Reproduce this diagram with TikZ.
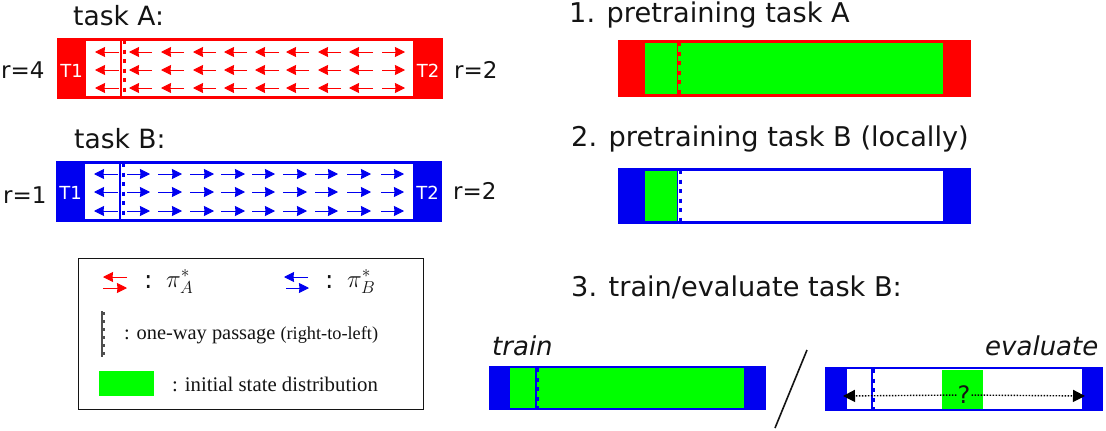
\documentclass[tikz,border=0pt]{standalone}
\usepackage{fontspec}
\setmainfont{DejaVu Sans}
\newfontfamily\legfont{Liberation Serif}
\usetikzlibrary{arrows.meta}
\definecolor{pr}{RGB}{255,0,0}
\definecolor{pb}{RGB}{0,0,240}
\definecolor{pg}{RGB}{0,255,0}
\definecolor{ink}{RGB}{20,20,20}
\tikzset{
  x=1pt,y=-1pt,
  heading/.style={anchor=base west,inner sep=0,font=\fontsize{27.2}{32}\selectfont,text=ink},
  taskhead/.style={anchor=base west,inner sep=0,font=\fontsize{26.5}{32}\selectfont,text=ink},
  rlabel/.style={anchor=base west,inner sep=0,font=\fontsize{23}{27}\selectfont,text=ink},
  terminal/.style={inner sep=0,text=white,font=\fontsize{18}{22}\selectfont},
  mode/.style={anchor=base west,inner sep=0,font=\fontsize{26}{31}\selectfont\itshape,text=ink},
  legendtext/.style={anchor=base west,inner sep=0,text=ink},
  legendmath/.style={anchor=base west,inner sep=0,text=ink,font=\fontsize{25}{30}\selectfont},
  policy/.style={line width=0.9pt,-{Stealth[length=10pt,width=10pt,inset=0.5pt]}},
  passage/.style={line width=3pt,dash pattern=on 4pt off 5.5pt},
  walk/.style={dash pattern=on 1.5pt off 1.5pt,line width=1.4pt,-{Stealth[length=12pt,width=12pt,inset=0pt]}},
}
% colour, x0, xl, xr, x1, y0, y1, frame, inner colour
\newcommand{\corridor}[9]{%
  \fill[#1] (#2,#6) rectangle (#5,#7);
  \fill[#9] (#3,#6+#8) rectangle (#4,#7-#8);
}
\newcommand{\divider}[5]{%
  \draw[#1,line width=1.2pt] (#2,#3) -- (#2,#4);
  \draw[#1,passage] (#2+#5,#3) -- (#2+#5,#4);
}
\begin{document}
\begin{tikzpicture}
\useasboundingbox (0,0) rectangle (1106,431);
\fill[white] (0,0) rectangle (1106,431);

% ---- task A
\node[taskhead] (ta) at (73,25) {task A:};
\corridor{pr}{57}{86}{413}{443}{38}{99}{2.8}{white}
\divider{pr}{121}{40}{97}{3}
\node[terminal] (a1) at (71.5,71) {T1};
\node[terminal] (a2) at (428,71) {T2};
\node[rlabel] (ra1) at (1,78) {r=4};
\node[rlabel] (ra2) at (454,78) {r=2};
\foreach \yy in {52,70,88}{
  \foreach \xa/\xb in {119/95,152/129,184/161,216/193,247/224,279/255,309/286,341/318,373/349}
    \draw[policy,pr] (\xa,\yy) -- (\xb,\yy);
  \draw[policy,pr] (382,\yy) -- (405,\yy);
}

% ---- task B
\node[taskhead] (tb) at (74,148) {task B:};
\corridor{pb}{56}{85}{413}{442}{161}{222}{2.8}{white}
\divider{pb}{120}{163}{220}{3}
\node[terminal] (b1) at (70.5,193) {T1};
\node[terminal] (b2) at (427.5,193) {T2};
\node[rlabel] (rb1) at (3,203) {r=1};
\node[rlabel] (rb2) at (453,199) {r=2};
\foreach \yy in {174,192,211}{
  \draw[policy,pb] (118,\yy) -- (94,\yy);
  \foreach \xa/\xb in {127/150,158/182,190/214,221/245,252/275,283/307,315/338,347/371,381/404}
    \draw[policy,pb] (\xa,\yy) -- (\xb,\yy);
}

% ---- legend
\node[draw=ink,line width=1.4pt,minimum width=345pt,minimum height=151pt,inner sep=0,anchor=north west] (legend) at (78,258) {};
\draw[policy,pr] (127,277) -- (103,277);
\draw[policy,pr] (103,288) -- (127,288);
\node[legendmath] (c1) at (144,288) {:};
\node[legendmath] (pa) at (166,287) {$\pi^*_A$};
\draw[policy,pb] (308,277) -- (284,277);
\draw[policy,pb] (286,288) -- (309,288);
\node[legendmath] (c2) at (325,288) {:};
\node[legendmath] (pb) at (347,287) {$\pi^*_B$};
\draw[ink!75!white,line width=1.2pt] (102,311) -- (102,357);
\draw[ink!75!white,line width=2.5pt,dash pattern=on 3pt off 5pt] (104,312) -- (104,357);
\node[legendtext,font=\legfont\fontsize{20.4}{24}\selectfont] (l1) at (124,339) {: one-way passage {\fontsize{18.3}{24}\selectfont (right-to-left)}};
\fill[pg] (99,371) rectangle (154,396);
\node[legendtext,font=\legfont\fontsize{20.8}{24}\selectfont] (l2) at (172,391) {: initial state distribution};

% ---- step 1
\node[heading] (s1) at (569,22) {1. pretraining task A};
\corridor{pr}{618}{645}{943}{971}{40}{97}{2.6}{pg}
\divider{pr}{677.5}{42}{95}{1.5}

% ---- step 2
\node[heading] (s2) at (571,146) {2. pretraining task B (locally)};
\corridor{pb}{618}{645}{943}{971}{168}{224}{2.8}{white}
\fill[pg] (645,170.8) rectangle (677.5,221.2);
\divider{pb}{677.5}{170}{222}{3}

% ---- step 3
\node[heading] (s3) at (571,296) {3. train/evaluate task B:};
\node[mode] (tr) at (492,355) {train};
\corridor{pb}{489}{510}{744}{766}{366}{410}{2}{pg}
\divider{pb}{536}{368}{408}{1.5}

\coordinate (sa) at (775,428);
\coordinate (sb) at (807,350);
\draw[ink,line width=1.6pt] (sa) -- (sb);

\node[mode] (ev) at (985,355) {evaluate};
\corridor{pb}{825}{847}{1082}{1103}{367}{411}{2}{white}
\divider{pb}{872}{369}{409}{1.5}
\fill[pg] (942,370) rectangle (983,409);
\node[inner sep=1pt,font=\fontsize{24}{28}\selectfont,text=ink] (q) at (964,395) {?};
\coordinate (wl) at (843,396);
\coordinate (wr) at (1085,396);
\draw[walk] (q) -- (wl);
\draw[walk] (q) -- (wr);
\end{tikzpicture}
\end{document}
